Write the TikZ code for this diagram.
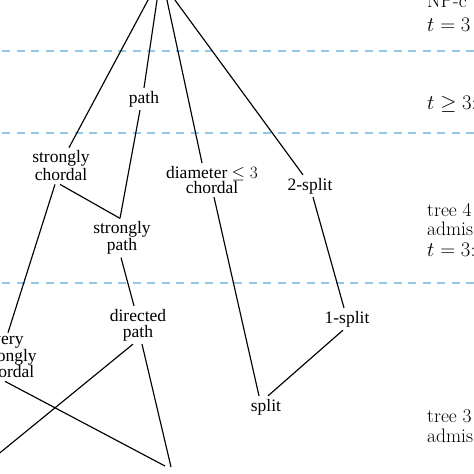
\documentclass[tikz,border=0pt]{standalone}
\usepackage{fontspec}
\newfontfamily\tms{Liberation Serif}
\definecolor{dashblue}{RGB}{148,200,230}
\begin{document}
\begin{tikzpicture}[x=1pt,y=-1pt,
  lbl/.style={font=\tms\fontsize{17.5}{#1}\selectfont, align=center, inner sep=3pt},
  lbl/.default=16,
  side/.style={font=\fontsize{19.5}{22}\selectfont, anchor=base west, inner sep=0pt},
  conn/.style={line width=1.15pt, black},
  levelline/.style={dashblue, line width=1.1pt, dash pattern=on 8pt off 6.5pt}]
\useasboundingbox (0,0) rectangle (474,474);
\clip (0,0) rectangle (474,474);

% level separators
\draw[levelline] (2,51) -- (474,51);
\draw[levelline] (2,133) -- (474,133);
\draw[levelline] (2,283) -- (474,283);

% free ends
\coordinate (t1) at (153.4,-10);
\coordinate (t2) at (158.5,-10);
\coordinate (t3) at (164.8,-10);
\coordinate (t4) at (167.6,-10);
\coordinate (bA) at (165,466);
\coordinate (bB) at (171,467);
\coordinate (lb) at (-15,465);

% nodes
\node[lbl] (path) at (144,99) {path};
\node[lbl=18] (sc) at (61,166) {strongly\\chordal};
\node[lbl=14] (dc) at (212,180) {diameter $\leq 3$\\chordal};
\node[lbl] (ts) at (310,186) {2-split};
\node[lbl=17] (sp) at (122,238) {strongly\\path};
\node[lbl=16] (dp) at (138,325) {directed\\path};
\node[lbl=14.5] (vsc) at (8,357) {very\\strongly\\chordal};
\node[lbl] (os) at (347,319) {1-split};
\node[lbl] (spl) at (266,407) {split};

% connectors
\draw[conn] (t1) -- ([xshift=8pt]sc.north);
\draw[conn] (t2) -- (path.north);
\draw[conn] ([xshift=-4pt]path.south) -- ([xshift=-2pt]sp.north);
\draw[conn] (t3) -- ([xshift=-10pt]dc.north);
\draw[conn] (t4) -- ([xshift=-7pt]ts.north);
\draw[conn] ([xshift=-1pt]sc.south) -- ([xshift=-2pt]sp.north);
\draw[conn] ([xshift=-6pt]sc.south) -- (vsc.north);
\draw[conn] ([xshift=-1pt]sp.south) -- ([xshift=-4pt]dp.north);
\draw[conn] ([xshift=4pt]dp.south) -- (bB);
\draw[conn] ([xshift=-5pt]dp.south) -- (lb);
\draw[conn] ([xshift=-3pt]vsc.south) -- (bA);
\draw[conn] ([xshift=2pt]dc.south) -- ([xshift=-7pt]spl.north);
\draw[conn] ([xshift=3pt]ts.south) -- ([xshift=-3pt]os.north);
\draw[conn] ([xshift=-4pt]os.south) -- ([xshift=2pt]spl.north);

% right column
\node[side] (r1) at (427,7) {NP-c};
\node[side] (r2) at (427,31) {$t=3$};
\node[side] (r3) at (427,109) {$t\geq 3$:};
\node[side] (r4) at (427,216) {tree 4};
\node[side] (r5) at (427,235) {admis};
\node[side] (r6) at (427,256) {$t=3$:};
\node[side] (r7) at (427,422) {tree 3};
\node[side] (r8) at (427,442) {admis};
\end{tikzpicture}
\end{document}
